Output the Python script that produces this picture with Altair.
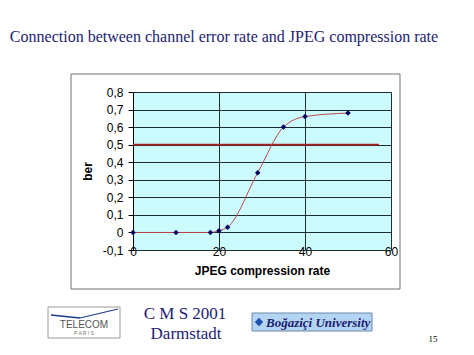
import altair as alt
import pandas as pd

# data
comp_rate = [0, 10, 18, 20, 22, 29, 35, 40, 50]
ber = [0.0, 0.0, 0.0, 0.01, 0.03, 0.34, 0.60, 0.66, 0.68]
thresh_x = [0, 57.2]
thresh_y = [0.5, 0.5]
y_ticks = [-0.1, 0, 0.1, 0.2, 0.3, 0.4, 0.5, 0.6, 0.7, 0.8]
x_ticks = [0, 20, 40, 60]

title_text = "Connection between channel error rate and JPEG compression rate"

df = pd.DataFrame({"x": comp_rate, "y": ber})
df_th = pd.DataFrame({"x": thresh_x, "y": thresh_y})
one = pd.DataFrame({"a": [0]})

W, H = 258, 158
L, T = 133, 92

xs = alt.Scale(domain=[0, 60], nice=False, zero=False)
ys = alt.Scale(domain=[-0.1, 0.8], nice=False, zero=False)

xaxis = alt.Axis(values=x_ticks, grid=True, gridColor="#1e2e2e", gridOpacity=1,
                 tickSize=0, labelPadding=1, labelBaseline="middle", labelFlush=False,
                 labelOverlap=False, labelFontSize=12, labelColor="#000", domainColor="#1e2e2e",
                 title="JPEG compression rate", titleFontSize=12, titleFontWeight="bold",
                 titleColor="#000", titlePadding=8)
yaxis = alt.Axis(values=y_ticks, grid=True, gridColor="#1e2e2e", gridOpacity=1,
                 tickSize=5, tickColor="#000", labelPadding=5, labelFontSize=12,
                 labelOverlap=False, labelColor="#000", domainColor="#000",
                 labelExpr="datum.value == 0 ? '0' : replace(replace(format(datum.value, '.1f'), '.', ','), '\u2212', '-')",
                 title="ber", titleFontSize=12, titleFontWeight="bold", titleColor="#000",
                 titlePadding=8)

X = alt.X("x:Q", scale=xs, axis=xaxis)
Y = alt.Y("y:Q", scale=ys, axis=yaxis)

frame = alt.Chart(one).mark_rect(fill="transparent", stroke="#707070", strokeWidth=1).encode(
    x=alt.value(71 - L), x2=alt.value(400 - L), y=alt.value(74 - T), y2=alt.value(289 - T))

curve = alt.Chart(df).mark_line(interpolate="monotone", color="#c04848", strokeWidth=1).encode(x=X, y=Y)

thresh = alt.Chart(df_th).mark_line(color="#a82424", strokeWidth=1.6).encode(x=X, y=Y)

pts = alt.Chart(df).mark_point(shape="diamond", filled=True, color="#000060", size=30, opacity=1).encode(x=X, y=Y)

def txt(s, x, y, size, font="Liberation Serif", color="#1c1c72", align="center", weight="normal", style="normal"):
    return alt.Chart(one).mark_text(text=s, font=font, fontSize=size, color=color, align=align,
                                    baseline="alphabetic", fontWeight=weight, fontStyle=style).encode(
        x=alt.value(x - L), y=alt.value(y - T))

def seg(x1, y1, x2, y2, color, w):
    return alt.Chart(one).mark_rule(color=color, strokeWidth=w).encode(
        x=alt.value(x1 - L), y=alt.value(y1 - T), x2=alt.value(x2 - L), y2=alt.value(y2 - T))

title = txt(title_text, 224, 41.5, 16)
cms = txt("C M S 2001", 185, 319, 17)
darm = txt("Darmstadt", 186, 339, 17)
page = txt("15", 433, 342, 9, color="#000")

logo_box = alt.Chart(one).mark_rect(fill="#ffffff", stroke="#9a9a9a", strokeWidth=1).encode(
    x=alt.value(48 - L), x2=alt.value(120 - L), y=alt.value(307 - T), y2=alt.value(338 - T))
sw1 = seg(51, 315, 80, 318, "#1a3a8a", 1.5)
sw2 = seg(80, 318, 118, 309, "#1a3a8a", 1.2)
telecom = txt("TELECOM", 84, 328, 10, font="Liberation Sans", color="#555555")
paris = txt("P  A  R  I  S", 84, 335, 5, font="Liberation Sans", color="#777777")

bu_box = alt.Chart(one).mark_rect(fill="#b4d4f4", stroke="#6a8aaa", strokeWidth=1).encode(
    x=alt.value(252 - L), x2=alt.value(372 - L), y=alt.value(313 - T), y2=alt.value(331 - T))
bu_icon = alt.Chart(one).mark_point(shape="diamond", filled=True, color="#1e50b0", size=70, opacity=1).encode(
    x=alt.value(259 - L), y=alt.value(322 - T))
bu_text = txt("Boğaziçi University", 266, 326.5, 13, color="#1c1c72", align="left", weight="bold", style="italic")

chart = alt.layer(frame, thresh, curve, pts, title, cms, darm, page,
                  logo_box, sw1, sw2, telecom, paris, bu_box, bu_icon, bu_text).properties(
    width=W, height=H,
    autosize=alt.AutoSizeParams(type="none"),
    padding={"left": L, "top": T, "right": 474 - L - W, "bottom": 355 - T - H},
).configure_view(fill="#ccfbfd", stroke="transparent").configure_axis(
    labelFont="Liberation Sans", titleFont="Liberation Sans")

chart.save("out.html", embed_options={"renderer": "svg", "actions": False})
